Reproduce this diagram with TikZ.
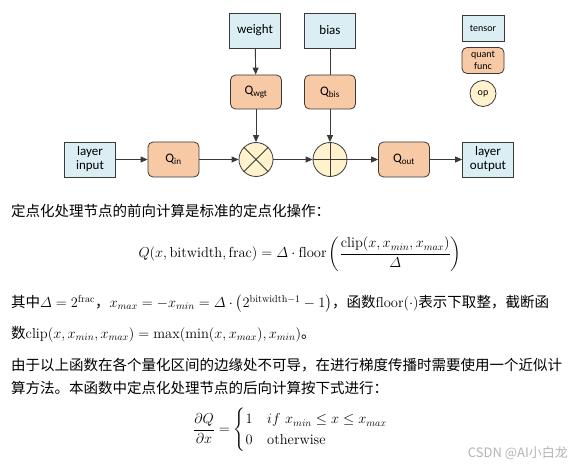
\documentclass[tikz,border=0pt]{standalone}
\usepackage{amsmath, amssymb}
\usepackage{fontspec}
\usepackage{xcolor}
\usetikzlibrary{arrows.meta}
\newfontfamily\cjk{Noto Sans CJK SC}
\newfontfamily\diag{Carlito}
\definecolor{tensorblue}{HTML}{DAEEF3}
\definecolor{quantpeach}{HTML}{F8C9A5}
\definecolor{opyellow}{HTML}{FFF2CC}
\definecolor{edgegray}{HTML}{3A3A3A}
\definecolor{markgray}{HTML}{B4B4B4}

\begin{document}
\begin{tikzpicture}[x=1pt, y=-1pt,
  tensor/.style={draw=edgegray, fill=tensorblue, line width=0.8pt, minimum width=51pt, minimum height=35pt, inner sep=1pt, align=center, font=\diag\fontsize{13}{14}\selectfont},
  quant/.style={tensor, fill=quantpeach, rounded corners=5pt},
  op/.style={circle, draw=edgegray, fill=opyellow, line width=0.8pt, minimum size=34pt, inner sep=0pt},
  legend/.style={minimum width=42pt, minimum height=26pt, font=\diag\fontsize{10}{12}\selectfont},
  arr/.style={-{Triangle[length=7pt,width=6pt]}, draw=edgegray, line width=0.9pt},
  txt/.style={anchor=west, inner sep=0pt, font=\fontsize{14.5}{17}\selectfont}]
\useasboundingbox (0,0) rectangle (585,470);

%% diagram
\node[tensor] (weight) at (255,30.5) {weight};
\node[tensor] (bias) at (330,30.5) {bias};
\node[quant, minimum height=34pt] (Qwgt) at (256,92) {Q\textsubscript{wgt}};
\node[quant, minimum height=34pt] (Qbis) at (330,92) {Q\textsubscript{bis}};
\node[tensor] (input) at (90,159.5) {layer\\input};
\node[quant] (Qin) at (173.5,159.5) {Q\textsubscript{in}};
\node[op] (mult) at (256,159.5) {};
\node[op] (plus) at (330,159.5) {};
\node[quant] (Qout) at (404,159.5) {Q\textsubscript{out}};
\node[tensor] (output) at (488,159.5) {layer\\output};
\draw[edgegray, line width=0.8pt] (mult.45) -- (mult.225) (mult.135) -- (mult.315);
\draw[edgegray, line width=0.8pt] (plus.north) -- (plus.south) (plus.west) -- (plus.east);

\draw[arr] (weight) -- (Qwgt);
\draw[edgegray, line width=0.9pt] (bias) -- (Qbis);
\draw[arr] (Qwgt) -- (mult);
\draw[arr] (Qbis) -- (plus);
\draw[arr] (input) -- (Qin);
\draw[arr] (Qin) -- (mult);
\draw[arr] (mult) -- (plus);
\draw[arr] (plus) -- (Qout);
\draw[arr] (Qout) -- (output);

%% legend
\node[tensor, legend] (ltensor) at (483,28.7) {tensor};
\node[quant, legend] (lquant) at (483,60.5) {quant\\func};
\node[op, minimum size=26pt, font=\diag\fontsize{10}{12}\selectfont] (lop) at (483,93.5) {op};

%% text
\node[txt] (line1) at (11,211) {\cjk 定点化处理节点的前向计算是标准的定点化操作：};
\node[txt, anchor=center] (eq1) at (300,254)
  {$Q(x,\mathrm{bitwidth},\mathrm{frac})=\varDelta\cdot\mathrm{floor}\left(\dfrac{\mathrm{clip}(x,x_{min},x_{max})}{\varDelta}\right)$};
\node[txt] (line2) at (11,304) {{\cjk 其中}$\varDelta=2^{\mathrm{frac}}${\cjk ，}$x_{max}=-x_{min}=\varDelta\cdot\left(2^{\mathrm{bitwidth}-1}-1\right)${\cjk ，函数}$\mathrm{floor}(\cdot)${\cjk 表示下取整，截断函}};
\node[txt] (line3) at (11,334) {{\cjk 数}$\mathrm{clip}(x,x_{min},x_{max})=\max(\min(x,x_{max}),x_{min})${\cjk 。}};
\node[txt] (line4) at (11,365) {\cjk 由于以上函数在各个量化区间的边缘处不可导，在进行梯度传播时需要使用一个近似计};
\node[txt] (line5) at (11,388) {\cjk 算方法。本函数中定点化处理节点的后向计算按下式进行：};
\node[txt] (eq2) at (193,430)
  {$\dfrac{\partial Q}{\partial x}=\begin{cases}1 & if\ x_{min}\le x\le x_{max}\\ 0 & \mathrm{otherwise}\end{cases}$};
\node[anchor=east, inner sep=0pt, text=markgray, font=\cjk\fontsize{13}{15}\selectfont] (mark) at (568,453) {CSDN @AI小白龙};
\end{tikzpicture}
\end{document}
